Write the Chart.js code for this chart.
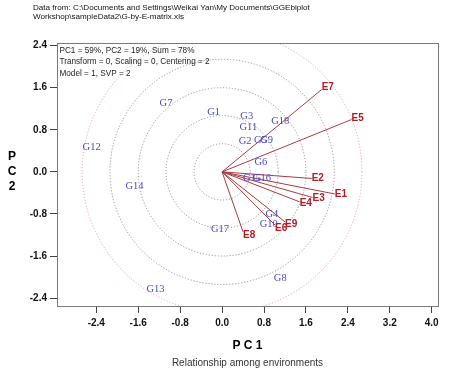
<!DOCTYPE html>
<html><head><meta charset="utf-8">
<script src="https://cdn.jsdelivr.net/npm/chart.js@4"></script>
<style>html,body{margin:0;padding:0;background:#fff;}canvas{display:block;}</style>
</head><body>
<canvas id="c" width="474" height="382" style="width:474px;height:382px"></canvas>
<script>
// ---- data ----
const genotypes = ['G1','G2','G3','G4','G5','G6','G7','G8','G9','G10','G11','G12','G13','G14','G15','G16','G17','G18'];
const genoPC1 = [-0.16, 0.44, 0.47, 0.95, 0.73, 0.74, -1.07, 1.11, 0.85, 0.89, 0.50, -2.49, -1.27, -1.67, 0.57, 0.76, -0.04, 1.11];
const genoPC2 = [1.14, 0.58, 1.06, -0.80, 0.60, 0.18, 1.30, -2.03, 0.60, -1.00, 0.85, 0.46, -2.23, -0.27, -0.13, -0.13, -1.10, 0.97];
const environments = ['E1','E2','E3','E4','E5','E6','E7','E8','E9'];
const envPC1 = [2.15, 1.71, 1.725, 1.48, 2.47, 1.01, 1.90, 0.40, 1.20];
const envPC2 = [-0.42, -0.125, -0.486, -0.57, 0.995, -1.01, 1.565, -1.14, -0.95];
const xTicks = [-2.4, -1.6, -0.8, 0.0, 0.8, 1.6, 2.4, 3.2, 4.0];
const yTicks = [-2.4, -1.6, -0.8, 0.0, 0.8, 1.6, 2.4];
const innerCircles = [0.535, 1.07, 1.6, 2.14];
const outerCircles = [2.67];
const headerLines = ['Data from: C:\\Documents and Settings\\Weikai Yan\\My Documents\\GGEbiplot', 'Workshop\\sampleData2\\G-by-E-matrix.xls'];
const infoLines = ['PC1 = 59%, PC2 = 19%, Sum = 78%', 'Transform = 0, Scaling = 0, Centering = 2', 'Model = 1, SVP = 2'];
const xTitle = 'P C 1';
const yTitle = ['P', 'C', '2'];
const caption = 'Relationship among environments';

// ---- datasets ----
const datasets = [];
datasets.push({
  label: 'genotypes',
  type: 'scatter',
  data: genotypes.map((g, i) => ({x: genoPC1[i], y: genoPC2[i]})),
  pointRadius: 0, pointHoverRadius: 0
});
environments.forEach((e, i) => {
  datasets.push({
    label: e,
    type: 'line',
    data: [{x: 0, y: 0}, {x: envPC1[i], y: envPC2[i]}],
    borderColor: '#a83a44', borderWidth: 1, pointRadius: 0, fill: false, showLine: true
  });
});

const SANS = '"Liberation Sans", Arial, sans-serif';
const SERIF = '"Liberation Serif", "Times New Roman", serif';

const decor = {
  id: 'decor',
  beforeDatasetsDraw(chart) {
    const {ctx, chartArea: a, scales: {x, y}} = chart;
    const cx = x.getPixelForValue(0), cy = y.getPixelForValue(0);
    ctx.save();
    ctx.beginPath(); ctx.rect(a.left, a.top, a.right - a.left, a.bottom - a.top); ctx.clip();
    ctx.lineWidth = 1;
    ctx.setLineDash([1.2, 1.8]);
    const drawC = (r, col) => {
      const rx = x.getPixelForValue(r) - cx;
      const ry = cy - y.getPixelForValue(r);
      ctx.strokeStyle = col;
      ctx.beginPath(); ctx.ellipse(cx, cy, rx, ry, 0, 0, Math.PI * 2); ctx.stroke();
    };
    innerCircles.forEach(r => drawC(r, '#949494'));
    outerCircles.forEach(r => drawC(r, '#e6a6a6'));
    ctx.restore();
  },
  afterDatasetsDraw(chart) {
    const {ctx} = chart;
    ctx.save();
    // genotype labels
    const gm = chart.getDatasetMeta(0);
    ctx.font = '10.5px ' + SERIF;
    ctx.fillStyle = '#4848c0';
    ctx.textAlign = 'center'; ctx.textBaseline = 'middle';
    gm.data.forEach((p, i) => ctx.fillText(genotypes[i], p.x, p.y));
    // environment labels
    ctx.font = 'bold 10px ' + SANS;
    ctx.fillStyle = '#b01c24';
    ctx.textAlign = 'left';
    environments.forEach((e, i) => {
      const m = chart.getDatasetMeta(i + 1);
      const p0 = m.data[0], p1 = m.data[1];
      const ang = Math.atan2(-(p1.y - p0.y), p1.x - p0.x);
      ctx.fillText(e, p1.x, p1.y - Math.sin(ang) * 4);
    });
    ctx.restore();
  },
  afterDraw(chart) {
    const {ctx, chartArea: a} = chart;
    ctx.save();
    ctx.strokeStyle = '#7a7a7a'; ctx.lineWidth = 1; ctx.setLineDash([]);
    ctx.strokeRect(Math.round(a.left) + 0.5, Math.round(a.top) + 0.5, Math.round(a.right - a.left), Math.round(a.bottom - a.top));
    ctx.fillStyle = '#111';
    ctx.textAlign = 'left'; ctx.textBaseline = 'alphabetic';
    ctx.font = '8.1px ' + SANS;
    ctx.fillText(headerLines[0], 33, 9.5);
    ctx.fillText(headerLines[1], 33, 18.5);
    ctx.font = '8.2px ' + SANS;
    ctx.fillStyle = '#222';
    infoLines.forEach((t, i) => ctx.fillText(t, a.left + 2.5, 53 + i * 11.3));
    ctx.font = 'bold 12px ' + SANS;
    ctx.fillStyle = '#000';
    ctx.textAlign = 'center'; ctx.textBaseline = 'middle';
    yTitle.forEach((t, i) => ctx.fillText(t, 12, 157 + i * 15));
    ctx.font = '10px ' + SANS;
    ctx.fillStyle = '#333';
    ctx.fillText(caption, (a.left + a.right) / 2, 363);
    ctx.restore();
  }
};

new Chart(document.getElementById('c'), {
  type: 'scatter',
  data: {datasets},
  options: {
    responsive: false, animation: false, devicePixelRatio: 1,
    layout: {padding: {top: 43, right: 36, left: 0, bottom: 0}},
    plugins: {legend: {display: false}, tooltip: {enabled: false}, title: {display: false}},
    events: [],
    scales: {
      x: {
        type: 'linear', min: -3.15, max: 4.12,
        afterBuildTicks: s => { s.ticks = xTicks.map(v => ({value: v})); },
        ticks: {callback: v => Number(v).toFixed(1), font: {family: SANS, size: 10, weight: 'bold'}, color: '#111', padding: 4, maxRotation: 0, autoSkip: false},
        grid: {drawOnChartArea: false, drawTicks: true, tickLength: 7, color: '#444'},
        border: {display: false},
        title: {display: true, text: xTitle, font: {family: SANS, size: 12, weight: 'bold'}, color: '#000', padding: {top: 0, bottom: 29}},
        afterFit: s => { s.height = 76; }
      },
      y: {
        type: 'linear', min: -2.55, max: 2.45,
        afterBuildTicks: s => { s.ticks = yTicks.map(v => ({value: v})); },
        ticks: {callback: v => Number(v).toFixed(1), font: {family: SANS, size: 10, weight: 'bold'}, color: '#111', padding: 3, autoSkip: false},
        grid: {drawOnChartArea: false, drawTicks: true, tickLength: 7, color: '#444'},
        border: {display: false},
        title: {display: false},
        afterFit: s => { s.width = 57; }
      }
    }
  },
  plugins: [decor]
});
</script>
</body></html>
